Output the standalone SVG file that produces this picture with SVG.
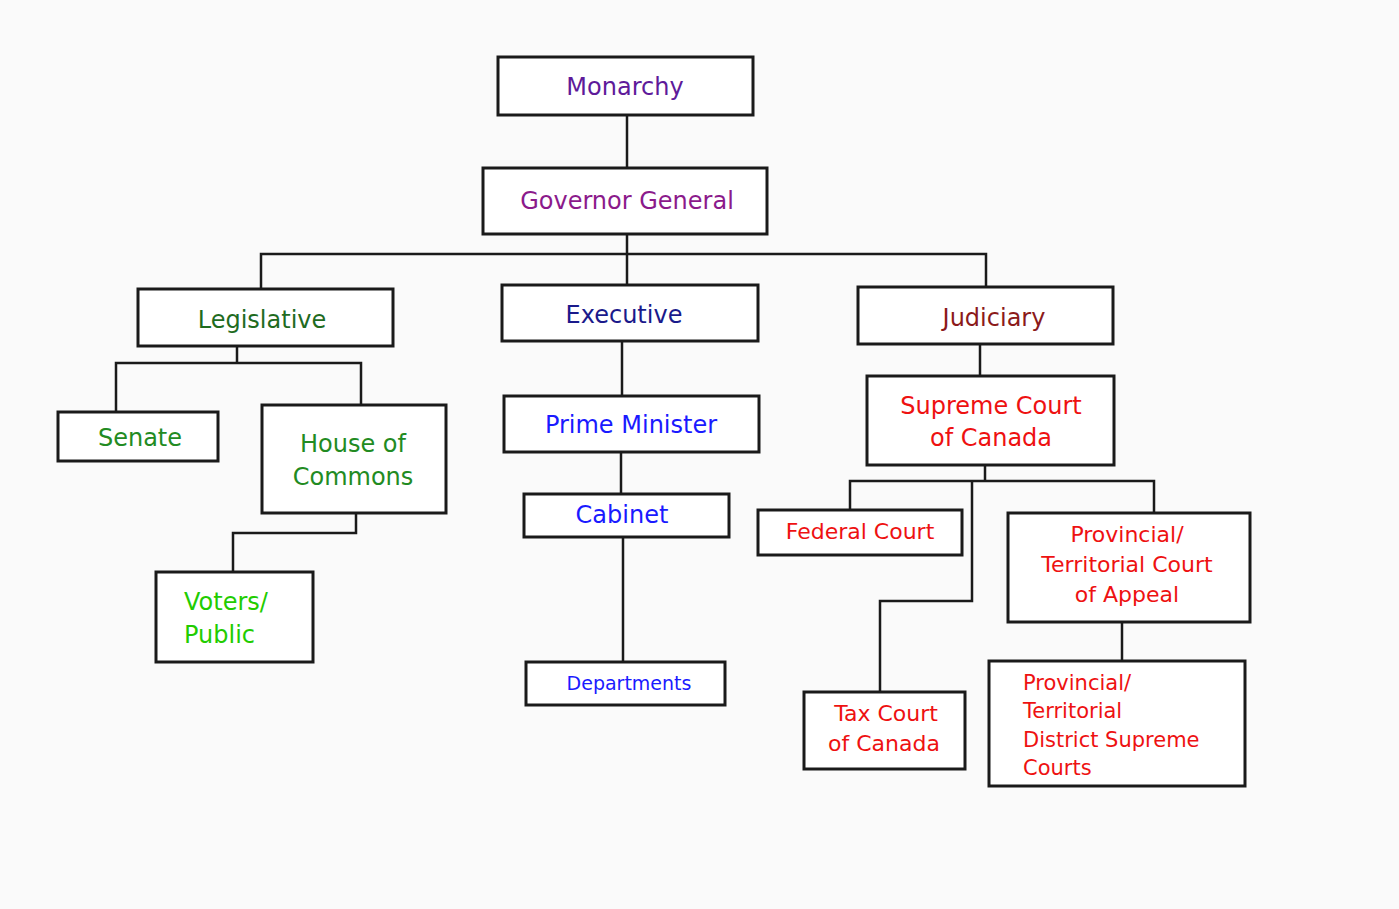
<svg xmlns="http://www.w3.org/2000/svg" width="1399" height="909" viewBox="0 0 1399 909">
<style>
rect{fill:#fff;stroke:#1a1a1a;stroke-width:3}
.c line,.c polyline{stroke:#1a1a1a;stroke-width:2.5;fill:none}
text{font-family:"DejaVu Sans",sans-serif;font-size:24px}
.m{text-anchor:middle}
</style>
<rect x="0" y="0" width="1399" height="909" style="fill:#fafafa;stroke:none"/>
<g class="c">
<line x1="627" y1="115" x2="627" y2="168"/>
<line x1="627" y1="234" x2="627" y2="285"/>
<polyline points="261,289 261,254 986,254 986,287"/>
<polyline points="237,346 237,363"/>
<polyline points="116,412 116,363 361,363 361,405"/>
<polyline points="356,513 356,533 233,533 233,572"/>
<line x1="622" y1="341" x2="622" y2="396"/>
<line x1="621" y1="452" x2="621" y2="494"/>
<line x1="623" y1="537" x2="623" y2="662"/>
<line x1="980" y1="344" x2="980" y2="376"/>
<line x1="985" y1="465" x2="985" y2="481"/>
<polyline points="850,510 850,481 1154,481 1154,513"/>
<polyline points="972,481 972,601 880,601 880,692"/>
<line x1="1122" y1="622" x2="1122" y2="661"/>
</g>
<g id="monarchy"><rect x="498" y="57" width="255" height="58"/><text class="m" x="625" y="95" fill="#5e1a9a">Monarchy</text></g>
<g id="gg"><rect x="483" y="168" width="284" height="66"/><text class="m" x="627" y="209" fill="#8b1a8b">Governor General</text></g>
<g id="legislative"><rect x="138" y="289" width="255" height="57"/><text class="m" x="262" y="328" fill="#1f6b1f">Legislative</text></g>
<g id="executive"><rect x="502" y="285" width="256" height="56"/><text class="m" x="624" y="323" fill="#1a1a8b">Executive</text></g>
<g id="judiciary"><rect x="858" y="287" width="255" height="57"/><text class="m" x="994" y="326" fill="#8b1a1a">Judiciary</text></g>
<g id="senate"><rect x="58" y="412" width="160" height="49"/><text class="m" x="140" y="446" fill="#228b22">Senate</text></g>
<g id="hoc"><rect x="262" y="405" width="184" height="108"/><text class="m" x="353" y="452" fill="#228b22">House of</text><text class="m" x="353" y="485" fill="#228b22">Commons</text></g>
<g id="voters"><rect x="156" y="572" width="157" height="90"/><text x="184" y="610" fill="#22cc00">Voters/</text><text x="184" y="643" fill="#22cc00">Public</text></g>
<g id="pm"><rect x="504" y="396" width="255" height="56"/><text class="m" x="631" y="433" fill="#1a1aff">Prime Minister</text></g>
<g id="cabinet"><rect x="524" y="494" width="205" height="43"/><text class="m" x="622" y="523" fill="#1a1aff">Cabinet</text></g>
<g id="departments"><rect x="526" y="662" width="199" height="43"/><text class="m" x="629" y="690" fill="#1a1aff" style="font-size:19px">Departments</text></g>
<g id="scc"><rect x="867" y="376" width="247" height="89"/><text class="m" x="991" y="414" fill="#ee1111">Supreme Court</text><text class="m" x="991" y="446" fill="#ee1111">of Canada</text></g>
<g id="federal"><rect x="758" y="510" width="204" height="45"/><text class="m" x="860" y="539" fill="#ee1111" style="font-size:22px">Federal Court</text></g>
<g id="ptca"><rect x="1008" y="513" width="242" height="109"/><text class="m" x="1127" y="542" fill="#ee1111" style="font-size:22px">Provincial/</text><text class="m" x="1127" y="572" fill="#ee1111" style="font-size:22px">Territorial Court</text><text class="m" x="1127" y="602" fill="#ee1111" style="font-size:22px">of Appeal</text></g>
<g id="tax"><rect x="804" y="692" width="161" height="77"/><text class="m" x="886" y="721" fill="#ee1111" style="font-size:22px">Tax Court</text><text class="m" x="884" y="751" fill="#ee1111" style="font-size:22px">of Canada</text></g>
<g id="ptdsc"><rect x="989" y="661" width="256" height="125"/><text x="1023" y="690" fill="#ee1111" style="font-size:21px">Provincial/</text><text x="1023" y="718" fill="#ee1111" style="font-size:21px">Territorial</text><text x="1023" y="747" fill="#ee1111" style="font-size:21px">District Supreme</text><text x="1023" y="775" fill="#ee1111" style="font-size:21px">Courts</text></g>
</svg>
